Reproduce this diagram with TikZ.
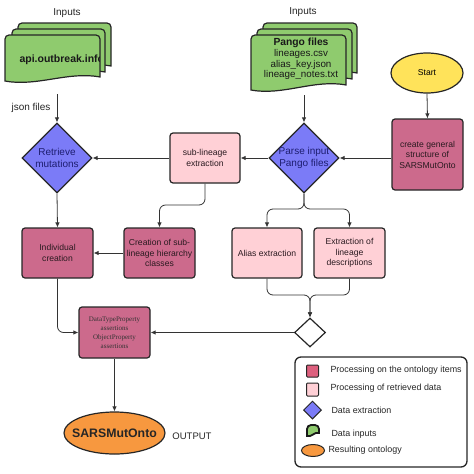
\documentclass[tikz,border=0pt]{standalone}
\usepackage{fontspec}
\setmainfont{Liberation Sans}
\newfontfamily\serifx{Liberation Serif}
\usetikzlibrary{shapes.geometric,arrows.meta,calc}
\definecolor{darkpk}{HTML}{CC6A8C}
\definecolor{legred}{HTML}{DD607E}
\definecolor{lightpk}{HTML}{FFD0D6}
\definecolor{bluex}{HTML}{7B7BF7}
\definecolor{greenx}{HTML}{8FCB6E}
\definecolor{yellowx}{HTML}{FFE35A}
\definecolor{orangex}{HTML}{F7983F}
\definecolor{navyx}{HTML}{1E1E70}
\definecolor{boxtxt}{HTML}{2A1A20}
\newcommand\docshape[7]{% style, x0, y0, x1, yL, yR, amp
  \pgfmathsetmacro\dw{#4-#2}%
  \draw[#1] (#2,#5) -- (#2,#3+4) .. controls (#2,#3+1.8) and (#2+1.8,#3) .. (#2+4,#3)
    -- (#4-4,#3) .. controls (#4-1.8,#3) and (#4,#3+1.8) .. (#4,#3+4)
    -- (#4,#6) .. controls (#4-\dw/3,#6-#7) and (#2+\dw/3,#5+#7) .. (#2,#5) -- cycle;}
\begin{document}
\begin{tikzpicture}[x=1pt,y=-1pt,
  conn/.style={draw=black!80, line width=0.8pt, -{Latex[length=5pt,width=4.5pt]}},
  proc/.style={draw=black!85, line width=1.2pt, rounded corners=3pt, minimum width=71pt,
    minimum height=50pt, align=center, inner sep=1pt, text=boxtxt,
    font=\fontsize{8.6}{10.5}\selectfont},
  ont/.style={proc, fill=darkpk},
  ret/.style={proc, fill=lightpk},
  ext/.style={diamond, aspect=1, draw=black!85, line width=1.2pt, fill=bluex,
    minimum width=70pt, minimum height=70pt, inner sep=0pt},
  dtxt/.style={font=\fontsize{10}{12}\selectfont, text=navyx, align=center},
  docst/.style={draw=black!85, line width=1.2pt, fill=greenx},
  lbl/.style={font=\fontsize{10}{12}\selectfont, text=black!85},
  legtxt/.style={font=\fontsize{8.9}{11}\selectfont, text=black!85, anchor=west},
]
\useasboundingbox (0,0) rectangle (474,474);

% ---- inputs (left)
\node[lbl] (in1) at (67,13) {Inputs};
\docshape{docst}{18}{23}{111}{70}{66}{6}
\docshape{docst}{12}{29}{105}{76}{72}{6}
\docshape{docst}{5}{35}{100}{81}{77}{6}
\begin{scope}
  \clip (5,35) rectangle (99.4,90);
  \node[anchor=west, font=\bfseries\fontsize{10.5}{12}\selectfont, text=black!90] (api) at (16,60) {api.outbreak.info};
\end{scope}
\coordinate (jsonout) at (57,94);
\node[lbl] (json) at (31,108) {json files};

% ---- inputs (Pango)
\node[lbl] (in2) at (303,12) {Inputs};
\docshape{docst}{263}{23}{357}{78}{73}{6}
\docshape{docst}{257}{29}{352}{84}{79}{6}
\docshape{docst}{251}{35}{346}{90}{85}{6}
\node[align=center, text=black!90, font=\fontsize{9.8}{10.7}\selectfont] (pango) at (301,59)
  {{\bfseries\fontsize{10.3}{11}\selectfont Pango files}\\lineages.csv\\alias\_key.json\\lineage\_notes.txt};
\coordinate (pangoout) at (304,95);

% ---- start
\node[ellipse, draw=black!85, line width=1.2pt, fill=yellowx, minimum width=72pt, minimum height=40pt,
  inner sep=0pt, font=\fontsize{8.6}{10}\selectfont] (start) at (427,73) {Start};
\node[ont] (general) at (427.5,154.5) [minimum height=71pt] {create general\\structure of\\SARSMutOnto};

% ---- diamonds
\node[ext, label={[dtxt]center:{Retrieve\\mutations}}] (retrieve) at (57,158) {};
\node[ext, label={[dtxt]center:{Parse input\\Pango files}}] (parse) at (304,158) {};

\node[ret] (subext) at (205,158) [minimum width=70pt] {sub-lineage\\extraction};
\node[ont] (indiv) at (57.5,253) {Individual\\creation};
\node[ont] (creation) at (159.5,253) {Creation of sub-\\lineage hierarchy\\classes};
\node[ret] (alias) at (267,253) [minimum width=70pt] {Alias extraction};
\node[ret] (extr) at (349.5,253) {Extraction of\\lineage\\descriptions};

\node[diamond, aspect=1, draw=black!85, line width=1.2pt, fill=white, minimum width=31pt,
  minimum height=29pt, inner sep=0pt] (small) at (310,332.5) {};

\node[ont, font=\serifx\fontsize{7}{9}\selectfont, text=black!80] (dt) at (114.5,332.5) [minimum height=51pt]
  {DataTypeProperty\\assertions\\ObjectProperty\\assertions};

\node[ellipse, draw=black!85, line width=1.2pt, fill=orangex, minimum width=101pt, minimum height=42pt,
  inner sep=0pt, label={[font=\bfseries\fontsize{12.3}{14}\selectfont, text=black!85]center:SARSMutOnto}] (onto) at (114.5,433) {};
\node[font=\fontsize{9.5}{11}\selectfont, text=black!85] (output) at (192,436) {OUTPUT};

% ---- connectors
\draw[conn] (jsonout) -- (retrieve.north);
\draw[conn] (pangoout) -- (parse.north);
\draw[conn] (start.south) -- (general.north);
\draw[conn] (general.west |- parse.east) -- (parse.east);
\draw[conn] (parse.west) -- (subext.east);
\draw[conn] (subext.west) -- (retrieve.east);
\draw[conn] (retrieve.south) -- (indiv.north);
\coordinate (subturn) at (205,205);
\draw[conn, rounded corners=6pt] (subext.south) -- (subturn) -| (creation.north);
\draw[conn] (creation.west) -- (indiv.east);
\coordinate (split) at (304,209);
\draw[conn, rounded corners=6pt] (parse.south) -- (split) -| (alias.north);
\draw[conn, rounded corners=6pt] (parse.south) -- (split) -| (extr.north);
\coordinate (merge) at (310,295);
\draw[conn, rounded corners=6pt] (alias.south) |- (merge) -- (small.north);
\draw[conn, rounded corners=6pt] (extr.south) |- (merge) -- (small.north);
\draw[conn] (small.west) -- (dt.east);
\draw[conn, rounded corners=6pt] (indiv.south) |- (dt.west);
\draw[conn] (dt.south) -- (onto.north);

% ---- legend
\draw[draw=black!85, line width=1.3pt, rounded corners=6pt] (295,357) rectangle (467,467);
\node[draw=black!85, line width=1pt, fill=legred, rounded corners=1pt, minimum width=12pt, minimum height=12pt, inner sep=0pt] (l1) at (312.5,371) {};
\node[legtxt] (t1) at (327,370) {Processing on the ontology items};
\node[draw=black!85, line width=1pt, fill=lightpk, rounded corners=1pt, minimum width=12pt, minimum height=13pt, inner sep=0pt] (l2) at (312.5,389.5) {};
\node[legtxt] (t2) at (327,388.5) {Processing of retrieved data};
\node[diamond, aspect=1, draw=black!85, line width=1pt, fill=bluex, minimum width=18pt, minimum height=18pt, inner sep=0pt] (l3) at (312.5,410) {};
\node[legtxt] (t3) at (328,410) {Data extraction};
\docshape{draw=black!90, line width=1.8pt, fill=greenx}{307}{425}{319}{436}{433}{2}
\node[legtxt] (t4) at (328,434) {Data inputs};
\node[ellipse, draw=black!85, line width=1pt, fill=orangex, minimum width=23pt, minimum height=12pt, inner sep=0pt] (l5) at (313,450.5) {};
\node[legtxt] (t5) at (325,450) {Resulting ontology};
\end{tikzpicture}
\end{document}
